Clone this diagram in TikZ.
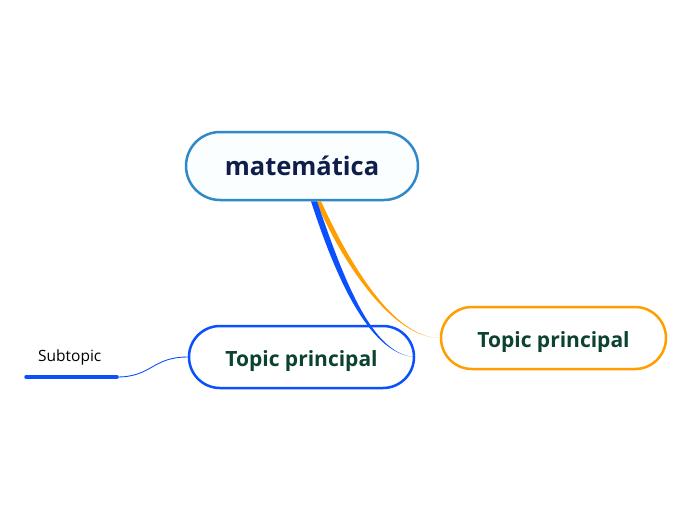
\documentclass[tikz,border=0pt]{standalone}
\usepackage{fontspec}
\setmainfont{Open Sans}
\usepackage{tikz}
\usetikzlibrary{calc}
\definecolor{rootline}{HTML}{2E88C9}
\definecolor{rootfill}{HTML}{FAFEFE}
\definecolor{rootink}{HTML}{0E1D4A}
\definecolor{topicblue}{HTML}{0A50FF}
\definecolor{topicorange}{HTML}{FF9E00}
\definecolor{topicink}{HTML}{0B4230}
\tikzset{
  rootbox/.style  = {draw=rootline,fill=rootfill,line width=2.5pt,rounded corners=34pt,
                     minimum width=232pt,minimum height=68pt,inner sep=0pt,
                     font=\fontsize{25.5}{30}\selectfont\bfseries,text=rootink},
  topicbox/.style = {draw=#1,fill=white,line width=2.5pt,rounded corners=31pt,
                     minimum width=225pt,minimum height=62pt,inner sep=0pt,
                     text height=20pt,text depth=2pt,
                     font=\fontsize{21}{25}\selectfont\bfseries,text=topicink},
  subtext/.style  = {font=\fontsize{15.5}{18}\selectfont,text=black,inner sep=0pt}
}
\begin{document}
\begin{tikzpicture}[x=1pt,y=-1pt]
  \useasboundingbox (0,0) rectangle (696,520);
  \node[rootbox] (root) at (302,166) {matemática};
  \node[topicbox=topicblue]   (left)  at (301.5,357) {Topic principal};
  \node[topicbox=topicorange] (right) at (553.5,338) {Topic principal};
  \node[subtext,anchor=west] (sub) at (38,357) {Subtopic};
  \coordinate (subL) at (26,377);
  \coordinate (subR) at (117,377);
  % tapered branches
  \fill[topicorange] ($(root.south)+(14,0)$)
    .. controls (342,262) and (392,338) .. (right.west)
    .. controls (392,338) and (347,258) .. ($(root.south)+(19,0)$) -- cycle;
  \fill[topicblue] ($(root.south)+(9,0)$)
    .. controls (338,285) and (372,355) .. (left.east)
    .. controls (372,355) and (344,280) .. ($(root.south)+(15,0)$) -- cycle;
  % subtopic
  \draw[topicblue,line width=3.5pt,line cap=round] (subL) -- (subR);
  \draw[topicblue,line width=0.9pt] (subR) .. controls (152,377) and (152,357) .. (left.west);
\end{tikzpicture}
\end{document}
